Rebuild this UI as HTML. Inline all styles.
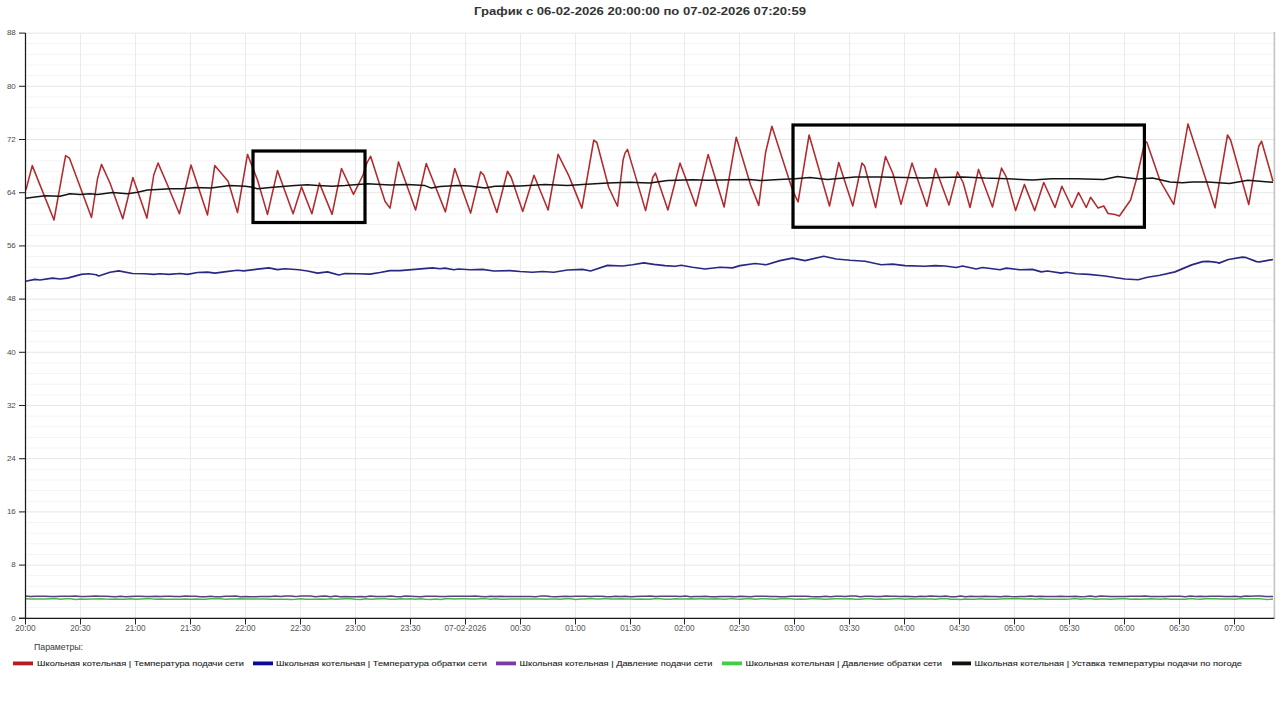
<!DOCTYPE html>
<html><head><meta charset="utf-8"><style>
html,body{margin:0;padding:0;background:#fff;width:1280px;height:720px;overflow:hidden}
svg{position:absolute;left:0;top:0;display:block}
text{font-family:"Liberation Sans",sans-serif}
</style></head><body>
<svg width="1280" height="720" viewBox="0 0 1280 720">
<text x="640" y="14.8" text-anchor="middle" font-size="11.2" font-weight="bold" fill="#333" textLength="332" lengthAdjust="spacingAndGlyphs">График с 06-02-2026 20:00:00 по 07-02-2026 07:20:59</text>
<g stroke="#f4f4f4" stroke-width="1"><line x1="25.5" y1="607.66" x2="1274.4" y2="607.66"/><line x1="25.5" y1="597.02" x2="1274.4" y2="597.02"/><line x1="25.5" y1="586.38" x2="1274.4" y2="586.38"/><line x1="25.5" y1="575.74" x2="1274.4" y2="575.74"/><line x1="25.5" y1="554.46" x2="1274.4" y2="554.46"/><line x1="25.5" y1="543.82" x2="1274.4" y2="543.82"/><line x1="25.5" y1="533.18" x2="1274.4" y2="533.18"/><line x1="25.5" y1="522.54" x2="1274.4" y2="522.54"/><line x1="25.5" y1="501.26" x2="1274.4" y2="501.26"/><line x1="25.5" y1="490.62" x2="1274.4" y2="490.62"/><line x1="25.5" y1="479.98" x2="1274.4" y2="479.98"/><line x1="25.5" y1="469.34" x2="1274.4" y2="469.34"/><line x1="25.5" y1="448.06" x2="1274.4" y2="448.06"/><line x1="25.5" y1="437.42" x2="1274.4" y2="437.42"/><line x1="25.5" y1="426.78" x2="1274.4" y2="426.78"/><line x1="25.5" y1="416.14" x2="1274.4" y2="416.14"/><line x1="25.5" y1="394.86" x2="1274.4" y2="394.86"/><line x1="25.5" y1="384.22" x2="1274.4" y2="384.22"/><line x1="25.5" y1="373.58" x2="1274.4" y2="373.58"/><line x1="25.5" y1="362.94" x2="1274.4" y2="362.94"/><line x1="25.5" y1="341.66" x2="1274.4" y2="341.66"/><line x1="25.5" y1="331.02" x2="1274.4" y2="331.02"/><line x1="25.5" y1="320.38" x2="1274.4" y2="320.38"/><line x1="25.5" y1="309.74" x2="1274.4" y2="309.74"/><line x1="25.5" y1="288.46" x2="1274.4" y2="288.46"/><line x1="25.5" y1="277.82" x2="1274.4" y2="277.82"/><line x1="25.5" y1="267.18" x2="1274.4" y2="267.18"/><line x1="25.5" y1="256.54" x2="1274.4" y2="256.54"/><line x1="25.5" y1="235.26" x2="1274.4" y2="235.26"/><line x1="25.5" y1="224.62" x2="1274.4" y2="224.62"/><line x1="25.5" y1="213.98" x2="1274.4" y2="213.98"/><line x1="25.5" y1="203.34" x2="1274.4" y2="203.34"/><line x1="25.5" y1="182.06" x2="1274.4" y2="182.06"/><line x1="25.5" y1="171.42" x2="1274.4" y2="171.42"/><line x1="25.5" y1="160.78" x2="1274.4" y2="160.78"/><line x1="25.5" y1="150.14" x2="1274.4" y2="150.14"/><line x1="25.5" y1="128.86" x2="1274.4" y2="128.86"/><line x1="25.5" y1="118.22" x2="1274.4" y2="118.22"/><line x1="25.5" y1="107.58" x2="1274.4" y2="107.58"/><line x1="25.5" y1="96.94" x2="1274.4" y2="96.94"/><line x1="25.5" y1="75.66" x2="1274.4" y2="75.66"/><line x1="25.5" y1="65.02" x2="1274.4" y2="65.02"/><line x1="25.5" y1="54.38" x2="1274.4" y2="54.38"/><line x1="25.5" y1="43.74" x2="1274.4" y2="43.74"/></g>
<g stroke="#e6e6e6" stroke-width="1"><line x1="25.5" y1="618.3" x2="1274.4" y2="618.3"/><line x1="25.5" y1="565.1" x2="1274.4" y2="565.1"/><line x1="25.5" y1="511.9" x2="1274.4" y2="511.9"/><line x1="25.5" y1="458.7" x2="1274.4" y2="458.7"/><line x1="25.5" y1="405.5" x2="1274.4" y2="405.5"/><line x1="25.5" y1="352.3" x2="1274.4" y2="352.3"/><line x1="25.5" y1="299.1" x2="1274.4" y2="299.1"/><line x1="25.5" y1="245.9" x2="1274.4" y2="245.9"/><line x1="25.5" y1="192.7" x2="1274.4" y2="192.7"/><line x1="25.5" y1="139.5" x2="1274.4" y2="139.5"/><line x1="25.5" y1="86.3" x2="1274.4" y2="86.3"/><line x1="25.5" y1="33.1" x2="1274.4" y2="33.1"/></g>
<g stroke="#ebebeb" stroke-width="1"><line x1="80.5" y1="33.1" x2="80.5" y2="618.3"/><line x1="135.5" y1="33.1" x2="135.5" y2="618.3"/><line x1="190.5" y1="33.1" x2="190.5" y2="618.3"/><line x1="245.5" y1="33.1" x2="245.5" y2="618.3"/><line x1="300.5" y1="33.1" x2="300.5" y2="618.3"/><line x1="355.5" y1="33.1" x2="355.5" y2="618.3"/><line x1="410.5" y1="33.1" x2="410.5" y2="618.3"/><line x1="465.5" y1="33.1" x2="465.5" y2="618.3"/><line x1="520.5" y1="33.1" x2="520.5" y2="618.3"/><line x1="575.5" y1="33.1" x2="575.5" y2="618.3"/><line x1="630.5" y1="33.1" x2="630.5" y2="618.3"/><line x1="684.5" y1="33.1" x2="684.5" y2="618.3"/><line x1="739.5" y1="33.1" x2="739.5" y2="618.3"/><line x1="794.5" y1="33.1" x2="794.5" y2="618.3"/><line x1="849.5" y1="33.1" x2="849.5" y2="618.3"/><line x1="904.5" y1="33.1" x2="904.5" y2="618.3"/><line x1="959.5" y1="33.1" x2="959.5" y2="618.3"/><line x1="1014.5" y1="33.1" x2="1014.5" y2="618.3"/><line x1="1069.5" y1="33.1" x2="1069.5" y2="618.3"/><line x1="1124.5" y1="33.1" x2="1124.5" y2="618.3"/><line x1="1179.5" y1="33.1" x2="1179.5" y2="618.3"/><line x1="1234.5" y1="33.1" x2="1234.5" y2="618.3"/></g>
<line x1="1274.4" y1="32.1" x2="1274.4" y2="618.3" stroke="#c4c4c4" stroke-width="1.6"/>
<polyline points="25.5,598.79 30.5,599.04 35.5,598.9 40.5,599.08 45.5,599.1 50.5,598.65 55.5,598.61 60.5,599.27 65.5,598.81 70.5,598.79 75.5,599.4 80.5,598.98 85.5,599.27 90.5,598.98 95.5,599.11 100.5,598.72 105.5,599.11 110.5,599.29 115.5,599.02 120.5,599.19 125.5,599.14 130.5,598.65 135.5,599.21 140.5,599.07 145.5,598.84 150.5,598.62 155.5,599.29 160.5,598.98 165.5,599.18 170.5,599.3 175.5,599.17 180.5,599.34 185.5,598.92 190.5,599.24 195.5,598.96 200.5,599.35 205.5,599.3 210.5,598.68 215.5,598.71 220.5,598.77 225.5,599.37 230.5,598.95 235.5,599.1 240.5,598.84 245.5,599.01 250.5,598.91 255.5,598.88 260.5,599.07 265.5,599.07 270.5,599.32 275.5,599.15 280.5,599.34 285.5,599.29 290.5,599.39 295.5,599.14 300.5,598.73 305.5,599.29 310.5,599.37 315.5,599.32 320.5,599.06 325.5,599.17 330.5,598.77 335.5,599.27 340.5,599.06 345.5,598.83 350.5,598.65 355.5,599.28 360.5,599.39 365.5,598.67 370.5,599.24 375.5,598.93 380.5,598.72 385.5,598.84 390.5,599.22 395.5,599.3 400.5,598.64 405.5,599.09 410.5,598.64 415.5,599.17 420.5,598.86 425.5,599.3 430.5,599.38 435.5,599 440.5,599.4 445.5,598.85 450.5,598.66 455.5,599.08 460.5,598.63 465.5,598.76 470.5,598.93 475.5,599.09 480.5,598.72 485.5,598.63 490.5,599.29 495.5,598.85 500.5,599.37 505.5,599.32 510.5,598.9 515.5,598.97 520.5,599.02 525.5,599.12 530.5,599.08 535.5,599.05 540.5,599.1 545.5,599.35 550.5,599.01 555.5,598.94 560.5,599.18 565.5,598.79 570.5,598.84 575.5,599.38 580.5,599.02 585.5,599.04 590.5,598.61 595.5,598.93 600.5,599.06 605.5,598.62 610.5,599.09 615.5,599.11 620.5,598.65 625.5,599.1 630.5,598.97 635.5,599.14 640.5,598.88 645.5,599.17 650.5,599.19 655.5,598.62 660.5,598.65 665.5,599.14 670.5,599.37 675.5,598.8 680.5,598.97 685.5,599.07 690.5,598.86 695.5,598.89 700.5,598.85 705.5,598.9 710.5,599.08 715.5,598.84 720.5,598.9 725.5,599.22 730.5,598.62 735.5,599.06 740.5,599.19 745.5,598.85 750.5,598.78 755.5,599.24 760.5,598.79 765.5,598.75 770.5,598.95 775.5,599.16 780.5,598.68 785.5,598.86 790.5,598.87 795.5,599.27 800.5,598.95 805.5,599.28 810.5,598.74 815.5,598.87 820.5,599.12 825.5,599.31 830.5,598.96 835.5,598.78 840.5,598.7 845.5,599.02 850.5,598.75 855.5,599.25 860.5,599.27 865.5,598.75 870.5,598.82 875.5,599.25 880.5,599.11 885.5,599.25 890.5,598.88 895.5,598.7 900.5,598.83 905.5,599.24 910.5,598.82 915.5,598.88 920.5,598.93 925.5,598.94 930.5,598.93 935.5,599.34 940.5,598.72 945.5,598.6 950.5,599.35 955.5,599.3 960.5,599.39 965.5,598.95 970.5,599.36 975.5,599.34 980.5,598.78 985.5,599.2 990.5,599.27 995.5,599.13 1000.5,599.02 1005.5,598.83 1010.5,598.87 1015.5,598.78 1020.5,598.65 1025.5,599.07 1030.5,598.83 1035.5,599.25 1040.5,598.64 1045.5,599.32 1050.5,599.15 1055.5,599.34 1060.5,599.32 1065.5,599.32 1070.5,599.06 1075.5,598.61 1080.5,599.2 1085.5,598.74 1090.5,598.84 1095.5,599.13 1100.5,599.02 1105.5,598.93 1110.5,599.35 1115.5,599.09 1120.5,598.87 1125.5,598.8 1130.5,599.29 1135.5,598.98 1140.5,599.23 1145.5,598.88 1150.5,598.76 1155.5,599.03 1160.5,599.25 1165.5,598.74 1170.5,599.23 1175.5,599.34 1180.5,599.24 1185.5,599.26 1190.5,598.61 1195.5,599.1 1200.5,599.29 1205.5,598.64 1210.5,598.82 1215.5,598.81 1220.5,599.02 1225.5,598.94 1230.5,598.98 1235.5,599.22 1240.5,598.6 1245.5,598.64 1250.5,598.7 1255.5,598.7 1260.5,598.65 1265.5,599.38 1270.5,599.28 1273,599" fill="none" stroke="#4cb84c" stroke-width="1.5" stroke-linejoin="round"/>
<polyline points="25.5,596.07 30.5,596.4 35.5,596.25 40.5,596.25 45.5,596.28 50.5,596.52 55.5,596.47 60.5,596.29 65.5,596.15 70.5,596.26 75.5,596.1 80.5,596.44 85.5,596.57 90.5,596.3 95.5,596.06 100.5,596.14 105.5,596.3 110.5,596.48 115.5,596.63 120.5,596.3 125.5,596.64 130.5,596.5 135.5,596.35 140.5,596.3 145.5,596.4 150.5,596.56 155.5,596.34 160.5,596.56 165.5,596.37 170.5,596.2 175.5,596.43 180.5,596.56 185.5,596.06 190.5,596.34 195.5,596.34 200.5,596.7 205.5,596.75 210.5,596.3 215.5,596.72 220.5,596.63 225.5,596.21 230.5,596.37 235.5,596.1 240.5,596.65 245.5,596.53 250.5,596.71 255.5,596.63 260.5,596.53 265.5,596.59 270.5,596.45 275.5,596.08 280.5,596.47 285.5,596 290.5,596.11 295.5,596.62 300.5,596.04 305.5,596.07 310.5,596.08 315.5,596.7 320.5,596.14 325.5,596.02 330.5,596.67 335.5,596.1 340.5,596.68 345.5,596.54 350.5,596.67 355.5,596.76 360.5,596.46 365.5,596.64 370.5,596.03 375.5,596.61 380.5,596.41 385.5,596.57 390.5,596.09 395.5,596.6 400.5,596.75 405.5,596.05 410.5,596.26 415.5,596.45 420.5,596.66 425.5,596.19 430.5,596.14 435.5,596.2 440.5,596.49 445.5,596.6 450.5,596.31 455.5,596.29 460.5,596.32 465.5,596.28 470.5,596.33 475.5,596.07 480.5,596.4 485.5,596.78 490.5,596.33 495.5,596.6 500.5,596.13 505.5,596.55 510.5,596.6 515.5,596.54 520.5,596.41 525.5,596.39 530.5,596.51 535.5,596.72 540.5,596.12 545.5,596.08 550.5,596.6 555.5,596.73 560.5,596.41 565.5,596.35 570.5,596.58 575.5,596.15 580.5,596.21 585.5,596.16 590.5,596.47 595.5,596.25 600.5,596.19 605.5,596.55 610.5,596.76 615.5,596.24 620.5,596.56 625.5,596.33 630.5,596.68 635.5,596.47 640.5,596.21 645.5,596.17 650.5,596.02 655.5,596.38 660.5,596.31 665.5,596.14 670.5,596.29 675.5,596.26 680.5,596.62 685.5,596.11 690.5,596.79 695.5,596.38 700.5,596.48 705.5,596.37 710.5,596.67 715.5,596.66 720.5,596.45 725.5,596.39 730.5,596.58 735.5,596.69 740.5,596.32 745.5,596.59 750.5,596.77 755.5,596.37 760.5,596.18 765.5,596.19 770.5,596.57 775.5,596.54 780.5,596.77 785.5,596.68 790.5,596.19 795.5,596.15 800.5,596.21 805.5,596.15 810.5,596.56 815.5,596.69 820.5,596.72 825.5,596.2 830.5,596.69 835.5,596.25 840.5,596.34 845.5,596.58 850.5,596.07 855.5,596.07 860.5,596.67 865.5,596.23 870.5,596.29 875.5,596.46 880.5,596.54 885.5,596.01 890.5,596.27 895.5,596.35 900.5,596.39 905.5,596.17 910.5,596.47 915.5,596.76 920.5,596.31 925.5,596.44 930.5,596.1 935.5,596.22 940.5,596.53 945.5,596.09 950.5,596.71 955.5,596.73 960.5,596.08 965.5,596.75 970.5,596.3 975.5,596.62 980.5,596.61 985.5,596.24 990.5,596.54 995.5,596.52 1000.5,596.64 1005.5,596.21 1010.5,596.6 1015.5,596.77 1020.5,596.54 1025.5,596.43 1030.5,596.09 1035.5,596.4 1040.5,596.28 1045.5,596.57 1050.5,596.54 1055.5,596.45 1060.5,596.15 1065.5,596.52 1070.5,596.5 1075.5,596.14 1080.5,596.71 1085.5,596.52 1090.5,596.1 1095.5,596.75 1100.5,596.11 1105.5,596.27 1110.5,596.58 1115.5,596.48 1120.5,596.44 1125.5,596.52 1130.5,596.37 1135.5,596.25 1140.5,596.14 1145.5,596.05 1150.5,596.57 1155.5,596.6 1160.5,596.43 1165.5,596.59 1170.5,596.29 1175.5,596.21 1180.5,596.31 1185.5,596.7 1190.5,596.03 1195.5,596.4 1200.5,596.2 1205.5,596.62 1210.5,596.28 1215.5,596.27 1220.5,596.32 1225.5,596.43 1230.5,596.62 1235.5,596.28 1240.5,596.68 1245.5,596.09 1250.5,596.22 1255.5,596.08 1260.5,596.09 1265.5,596.62 1270.5,596.58 1273,596.4" fill="none" stroke="#5a4080" stroke-width="1.5" stroke-linejoin="round"/>
<polyline points="25.6,281.25 35,279.4 40,280 52.5,278.1 60,279 67.5,278.1 81.25,274.4 88.75,273.75 96.25,274.75 98.75,276 110,272.25 118.75,270.9 132.5,273.5 145,273.75 153.75,274.4 160,273.75 168.75,274.4 180,273.5 187.5,274.4 197.5,272.5 207.5,272.1 215,273.1 226.25,271.6 237.5,270.25 243.75,270.9 257.5,269.1 268.75,267.9 277.5,269.6 285,268.75 298.75,269.75 307.5,271 317.5,273.1 327.5,271.9 338.75,275 345,273.5 357.5,273.75 370,274.1 380,272.5 390,270.6 400,270.6 415,269.4 432.5,267.9 440,268.75 445,268.1 453.75,269.75 458.75,269 470,269.75 482.5,269.4 493.75,271 510,270.6 520,271.5 532.5,272.25 542.5,271.5 553.75,272.25 567.5,270 582.5,269.4 590.6,271 607.5,265.4 622.5,266 632.5,264.75 643.75,262.9 653.75,264.4 665,265.6 675,266.25 681.25,265.25 692.5,267.25 705,269 720,267.25 732.5,267.9 740,265.6 755,263.5 766.25,264.75 780,260.6 792.5,258.1 805,260.6 823.75,256.25 836.25,259 850,260.25 865,261.25 881.25,264.75 892.5,264.1 905,265.6 925,266.25 935,265.6 945,266 956.25,267.5 962.5,266 976.25,269 982.5,267.5 1000,269.75 1006.25,268.1 1020,269.75 1032.5,269.4 1041.25,271.9 1047.5,271 1061.25,273.1 1066.25,272.25 1076.25,273.75 1088.75,274.4 1105,276 1116.25,277.75 1125,279 1138.1,279.75 1147.5,277.25 1160,275.25 1175,271.9 1191.7,264.9 1202.7,261.6 1208.1,261.4 1216.7,262.3 1219,263.1 1228.4,259.5 1242.5,257.1 1246.4,257.7 1256.6,261.6 1259.7,261.8 1273,259.5" fill="none" stroke="#2a2882" stroke-width="1.7" stroke-linejoin="round"/>
<polyline points="25.5,190 26.25,188.75 32.25,165.6 54,220 65.6,155.6 69.4,158.1 91.5,217.5 97.5,178.75 101.5,164.4 110,183 122.75,218.75 132.9,177.5 146.9,218.1 153.75,175 158.1,163.1 167.5,185 179.4,213.75 191,165 207.5,215 214.75,165.6 228.1,181.25 237.5,212.5 247.5,154.4 257.5,180 267.5,214.4 277.5,170.6 293.1,213.75 301.5,186.9 311.9,213.75 319.4,183.1 332.1,214.4 341.5,168.5 353.5,194.4 363,175 366.9,163 370.6,156.25 385,201.25 390,208.1 398.5,161.9 415.6,210 426.25,163.5 445.4,211.9 454.75,168.5 470.6,213.1 480.6,171.9 483.75,175 496.9,212.5 507.5,171.25 511.25,177.5 522.75,211.5 534,175.25 548.1,210 558.1,154.4 568.75,175.6 581.9,208.1 593.75,140.25 596.9,142.5 608.75,187.5 617.5,206.25 623.1,160 625,153.1 627.5,149.4 645.6,210.6 652.75,177.5 655.4,173.1 667.9,210 680,163.1 695.9,206 708.1,154.6 724.1,206.9 736.25,137.25 750.6,185 758.75,205.4 765.6,152.5 771.9,126.25 791.25,186.25 795.6,196.9 798.1,201.9 809.1,135 829.5,206 838.75,162.5 852.75,206 861.9,163.1 864.6,166 875.6,207.5 885.5,156.5 893.1,174 901,204.4 912,163.1 926.9,206.25 935.6,168.5 949,205 957.5,171.9 963.1,182.5 970,207.5 978.5,169.4 992.5,206.9 1001.5,168.1 1006.25,176.9 1015.6,210.6 1024.4,184.4 1034.75,210.6 1043.75,182.5 1055,207.5 1061.9,186.25 1071.9,207.5 1078.5,192.5 1086.25,207.5 1090.6,197.25 1098.1,208.1 1103.75,206 1108.1,213.5 1115,214.4 1119.4,216 1130.6,200 1136.25,180 1145,141.25 1146.9,142.5 1160,180.6 1173.75,204.4 1188,123.9 1215,207.75 1227.5,135 1230.6,140 1248.75,204.5 1258.75,146.25 1261.6,141.25 1273,181.2" fill="none" stroke="#b22a2e" stroke-width="1.55" stroke-linejoin="round"/>
<polyline points="25.6,198.3 45,195.8 60,196.25 70,193.75 80,194.4 90,193.75 97.5,194.4 112.5,192.5 127.5,193.75 137.5,192.25 147.5,190 157.5,189.4 170,188.75 182.5,188.75 195,187.5 211,188 230,185.6 245,186.25 251,187 257.5,188.75 270,187.5 295,185.6 307.5,184.75 317.5,185.6 332.5,186.25 345,185.6 367.5,183.75 390,185 407.5,184.4 425,185.6 431.25,188.1 440,186.5 457.5,185.6 470,186 485,188.1 495,186.25 520,186 545,184.4 567.5,185.6 582.5,184.4 607.5,183.1 630,182.25 635,182.5 650,183.1 667.5,180.6 692.5,179.75 707.5,180.25 732.5,179.75 750,179.4 760,180.6 778.75,179.4 795,178.75 810,177.5 827.5,179.4 855,176.9 880,176.9 905,177.5 923.75,178.1 940,177.5 962.5,176.9 985,178.1 1007.5,178.75 1032.5,180 1051.25,178.75 1076.25,178.75 1103.75,179.4 1117.5,176.5 1137.5,179 1152.5,178.1 1170,181.9 1182.5,182.75 1192.5,181.9 1207.5,181.9 1229.5,183.5 1247.8,180.25 1273,182.25" fill="none" stroke="#141414" stroke-width="1.55" stroke-linejoin="round"/>
<line x1="25.5" y1="33.1" x2="25.5" y2="619.05" stroke="#1a1a1a" stroke-width="1.25"/>
<line x1="19" y1="618.3" x2="1274.4" y2="618.3" stroke="#1a1a1a" stroke-width="1.25"/>
<g stroke="#222" stroke-width="1.05"><line x1="19" y1="618.3" x2="25.5" y2="618.3"/><line x1="19" y1="565.1" x2="25.5" y2="565.1"/><line x1="19" y1="511.9" x2="25.5" y2="511.9"/><line x1="19" y1="458.7" x2="25.5" y2="458.7"/><line x1="19" y1="405.5" x2="25.5" y2="405.5"/><line x1="19" y1="352.3" x2="25.5" y2="352.3"/><line x1="19" y1="299.1" x2="25.5" y2="299.1"/><line x1="19" y1="245.9" x2="25.5" y2="245.9"/><line x1="19" y1="192.7" x2="25.5" y2="192.7"/><line x1="19" y1="139.5" x2="25.5" y2="139.5"/><line x1="19" y1="86.3" x2="25.5" y2="86.3"/><line x1="19" y1="33.1" x2="25.5" y2="33.1"/><line x1="25.5" y1="618.3" x2="25.5" y2="624.5"/><line x1="80.5" y1="618.3" x2="80.5" y2="624.5"/><line x1="135.5" y1="618.3" x2="135.5" y2="624.5"/><line x1="190.5" y1="618.3" x2="190.5" y2="624.5"/><line x1="245.5" y1="618.3" x2="245.5" y2="624.5"/><line x1="300.5" y1="618.3" x2="300.5" y2="624.5"/><line x1="355.5" y1="618.3" x2="355.5" y2="624.5"/><line x1="410.5" y1="618.3" x2="410.5" y2="624.5"/><line x1="465.5" y1="618.3" x2="465.5" y2="624.5"/><line x1="520.5" y1="618.3" x2="520.5" y2="624.5"/><line x1="575.5" y1="618.3" x2="575.5" y2="624.5"/><line x1="630.5" y1="618.3" x2="630.5" y2="624.5"/><line x1="684.5" y1="618.3" x2="684.5" y2="624.5"/><line x1="739.5" y1="618.3" x2="739.5" y2="624.5"/><line x1="794.5" y1="618.3" x2="794.5" y2="624.5"/><line x1="849.5" y1="618.3" x2="849.5" y2="624.5"/><line x1="904.5" y1="618.3" x2="904.5" y2="624.5"/><line x1="959.5" y1="618.3" x2="959.5" y2="624.5"/><line x1="1014.5" y1="618.3" x2="1014.5" y2="624.5"/><line x1="1069.5" y1="618.3" x2="1069.5" y2="624.5"/><line x1="1124.5" y1="618.3" x2="1124.5" y2="624.5"/><line x1="1179.5" y1="618.3" x2="1179.5" y2="624.5"/><line x1="1234.5" y1="618.3" x2="1234.5" y2="624.5"/></g>
<g font-size="8" fill="#4a4a4a"><text x="15.8" y="620.5" text-anchor="end">0</text><text x="15.8" y="567.3" text-anchor="end">8</text><text x="15.8" y="514.1" text-anchor="end">16</text><text x="15.8" y="460.9" text-anchor="end">24</text><text x="15.8" y="407.7" text-anchor="end">32</text><text x="15.8" y="354.5" text-anchor="end">40</text><text x="15.8" y="301.3" text-anchor="end">48</text><text x="15.8" y="248.1" text-anchor="end">56</text><text x="15.8" y="194.9" text-anchor="end">64</text><text x="15.8" y="141.7" text-anchor="end">72</text><text x="15.8" y="88.5" text-anchor="end">80</text><text x="15.8" y="35.3" text-anchor="end">88</text></g>
<g font-size="8.2" fill="#555"><text x="25.4" y="630.7" text-anchor="middle">20:00</text><text x="80.4" y="630.7" text-anchor="middle">20:30</text><text x="135.4" y="630.7" text-anchor="middle">21:00</text><text x="190.4" y="630.7" text-anchor="middle">21:30</text><text x="245.4" y="630.7" text-anchor="middle">22:00</text><text x="300.4" y="630.7" text-anchor="middle">22:30</text><text x="355.4" y="630.7" text-anchor="middle">23:00</text><text x="410.4" y="630.7" text-anchor="middle">23:30</text><text x="465.4" y="630.7" text-anchor="middle">07-02-2026</text><text x="520.4" y="630.7" text-anchor="middle">00:30</text><text x="575.4" y="630.7" text-anchor="middle">01:00</text><text x="630.4" y="630.7" text-anchor="middle">01:30</text><text x="684.4" y="630.7" text-anchor="middle">02:00</text><text x="739.4" y="630.7" text-anchor="middle">02:30</text><text x="794.4" y="630.7" text-anchor="middle">03:00</text><text x="849.4" y="630.7" text-anchor="middle">03:30</text><text x="904.4" y="630.7" text-anchor="middle">04:00</text><text x="959.4" y="630.7" text-anchor="middle">04:30</text><text x="1014.4" y="630.7" text-anchor="middle">05:00</text><text x="1069.4" y="630.7" text-anchor="middle">05:30</text><text x="1124.4" y="630.7" text-anchor="middle">06:00</text><text x="1179.4" y="630.7" text-anchor="middle">06:30</text><text x="1234.4" y="630.7" text-anchor="middle">07:00</text></g>
<rect x="253" y="151" width="112" height="71.5" fill="none" stroke="#000" stroke-width="3.2"/>
<rect x="793" y="125" width="351.4" height="102.25" fill="none" stroke="#000" stroke-width="3.2"/>
<text x="34" y="649.6" font-size="8.7" fill="#383838" textLength="49" lengthAdjust="spacingAndGlyphs">Параметры:</text>
<rect x="13" y="661.5" width="20" height="3.8" fill="#b81c20"/><text x="37" y="666.0" font-size="8.1" fill="#1a1a1a" stroke="#1a1a1a" stroke-width="0.1" textLength="207.0" lengthAdjust="spacingAndGlyphs">Школьная котельная | Температура подачи сети</text>
<rect x="253" y="661.5" width="20" height="3.8" fill="#0a0a96"/><text x="276" y="666.0" font-size="8.1" fill="#1a1a1a" stroke="#1a1a1a" stroke-width="0.1" textLength="211.0" lengthAdjust="spacingAndGlyphs">Школьная котельная | Температура обратки сети</text>
<rect x="496" y="661.5" width="20" height="3.8" fill="#7a3aa8"/><text x="519.5" y="666.0" font-size="8.1" fill="#1a1a1a" stroke="#1a1a1a" stroke-width="0.1" textLength="193.0" lengthAdjust="spacingAndGlyphs">Школьная котельная | Давление подачи сети</text>
<rect x="722" y="661.5" width="20" height="3.8" fill="#44cc44"/><text x="745.5" y="666.0" font-size="8.1" fill="#1a1a1a" stroke="#1a1a1a" stroke-width="0.1" textLength="196.5" lengthAdjust="spacingAndGlyphs">Школьная котельная | Давление обратки сети</text>
<rect x="952" y="661.5" width="19" height="3.8" fill="#111"/><text x="974.5" y="666.0" font-size="8.1" fill="#1a1a1a" stroke="#1a1a1a" stroke-width="0.1" textLength="267.5" lengthAdjust="spacingAndGlyphs">Школьная котельная | Уставка температуры подачи по погоде</text>
</svg>
</body></html>
